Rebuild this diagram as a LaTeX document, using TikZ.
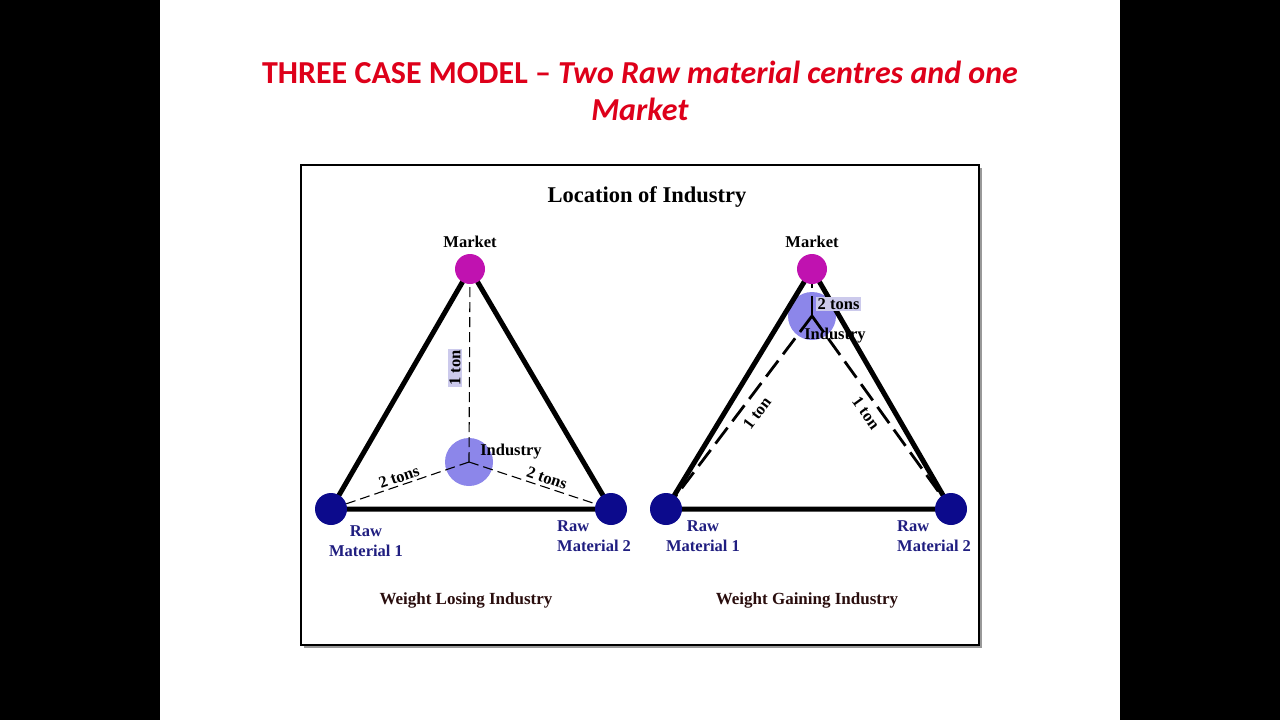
\documentclass[tikz,border=0pt]{standalone}
\usepackage{fontspec}
\setmainfont{Liberation Serif}
\newfontfamily\titlefont{Carlito}
\usetikzlibrary{positioning}
\definecolor{titlered}{RGB}{222,0,26}
\definecolor{mktcol}{RGB}{192,18,176}
\definecolor{rawcol}{RGB}{12,10,140}
\definecolor{indcol}{RGB}{140,134,234}
\definecolor{tagcol}{RGB}{204,202,236}
\definecolor{rawtxt}{RGB}{32,30,128}
\definecolor{subtxt}{RGB}{42,14,14}
\pgfdeclarelayer{front}
\pgfsetlayers{main,front}

\begin{document}
\begin{tikzpicture}[x=1pt,y=-1pt,
  mkt/.style={fill=mktcol, circle, minimum size=30pt, inner sep=0pt},
  raw/.style={fill=rawcol, circle, minimum size=32pt, inner sep=0pt},
  ind/.style={fill=indcol, circle, minimum size=48pt, inner sep=0pt},
  side/.style={line width=5pt},
  thin flow/.style={line width=1.1pt, dash pattern=on 10pt off 5pt},
  thick flow/.style={line width=2.8pt, dash pattern=on 20pt off 8pt},
  txt/.style={font=\fontsize{16.5}{20}\selectfont\bfseries, inner sep=2pt},
  rawlbl/.style={txt, text=rawtxt, align=center},
  tag/.style={txt, fill=tagcol, inner sep=1.5pt},
  title/.style={font=\titlefont\fontsize{32}{38}\selectfont\bfseries, text=titlered}]
  % slide
  \fill[black] (0,0) rectangle (1280,720);
  \fill[white] (160,0) rectangle (1120,720);
  \node[title] (t1) at (640,72) {THREE CASE MODEL – \textit{Two Raw material centres and one}};
  \node[title] (t2) at (640,109) {\textit{Market}};

  % frame
  \fill[black!40] (304,168) rectangle (982,648);
  \draw[line width=2.5pt, fill=white] (301,165) rectangle (979,645);
  \node[font=\fontsize{22.5}{27}\selectfont\bfseries] (hd) at (647,197) {Location of Industry};

  % weight losing
  \begin{pgfonlayer}{front}
    \node[mkt, label={[txt, label distance=4pt]above:Market}] (m1) at (470,269) {};
    \node[raw] (r1) at (331,509) {};
    \node[raw] (r2) at (611,509) {};
  \end{pgfonlayer}
  \node[ind] (i1) at (469,462) {};
  \node[txt] (il1) at (511,452) {Industry};
  \draw[side] (m1.center) -- (r1.center) -- (r2.center) -- cycle;
  \draw[thin flow] (i1.center) -- (m1);
  \draw[thin flow] (i1.center) -- (r1);
  \draw[thin flow] (i1.center) -- (r2);
  \node[tag, rotate=90] (w1) at (455,368) {1 ton};
  \node[txt, rotate=19] (w2) at (399,477) {2 tons};
  \node[txt, rotate=-19] (w3) at (547,478) {2 tons};
  \node[rawlbl] (rl1) at (366,541) {Raw\\Material 1};
  \node[rawlbl, align=left, anchor=west] (rl2) at (555,536) {Raw\\Material 2};
  \node[txt, font=\fontsize{17}{20}\selectfont\bfseries, text=subtxt] (s1) at (466,600) {Weight Losing Industry};

  % weight gaining
  \begin{pgfonlayer}{front}
    \node[mkt, label={[txt, label distance=4pt]above:Market}] (m2) at (812,269) {};
    \node[raw] (r3) at (666,509) {};
    \node[raw] (r4) at (951,509) {};
    \node[tag, anchor=west] (tg) at (816,304) {2 tons};
  \end{pgfonlayer}
  \node[ind] (i2) at (812,316) {};
  \node[txt] (il2) at (835,336) {Industry};
  \draw[side] (m2.center) -- (r3.center) -- (r4.center) -- cycle;
  \draw[thick flow] (i2.center) -- (m2);
  \draw[thick flow] (i2.center) -- (r3);
  \draw[thick flow] (i2.center) -- (r4);
  \node[txt, rotate=53] (w4) at (757,413) {1 ton};
  \node[txt, rotate=-54] (w5) at (866,413) {1 ton};
  \node[rawlbl] (rl3) at (703,536) {Raw\\Material 1};
  \node[rawlbl, align=left, anchor=west] (rl4) at (895,536) {Raw\\Material 2};
  \node[txt, font=\fontsize{17}{20}\selectfont\bfseries, text=subtxt] (s2) at (807,600) {Weight Gaining Industry};
\end{tikzpicture}
\end{document}
